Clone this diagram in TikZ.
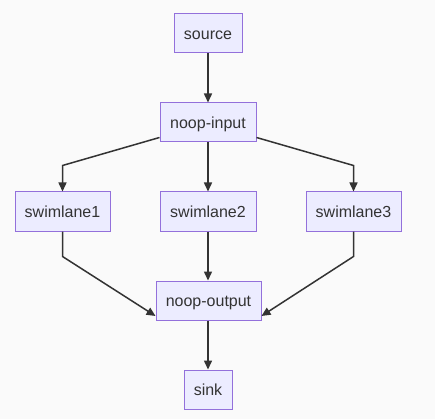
\documentclass[tikz,border=0pt]{standalone}
\usepackage{fontspec}
\setmainfont{Liberation Sans}
\usetikzlibrary{arrows.meta}
\definecolor{nodefill}{HTML}{ECECFF}
\definecolor{nodedraw}{HTML}{9370DB}
\definecolor{ink}{HTML}{333333}
\definecolor{bg}{HTML}{FAFAFA}
\tikzset{
  box/.style={draw=nodedraw, fill=nodefill, line width=1pt, rectangle, inner sep=0pt,
    minimum height=39pt, text height=12pt, text depth=0.4pt, text=ink, font=\fontsize{16pt}{19pt}\selectfont},
  edge/.style={draw=ink, line width=1.5pt, -{Triangle[length=9pt,width=8pt]}}
}
\begin{document}
\begin{tikzpicture}[x=1pt,y=-1pt]
\fill[bg] (0,0) rectangle (435,419);
\useasboundingbox (0,0) rectangle (435,419);
\node[box, minimum width=68pt] (src) at (208,33.5) {source};
\node[box, minimum width=96pt] (ni) at (208,122.5) {noop-input};
\node[box, minimum width=95pt] (s1) at (62.5,211.5) {swimlane1};
\node[box, minimum width=96pt] (s2) at (208,211.5) {swimlane2};
\node[box, minimum width=95pt] (s3) at (353.5,211.5) {swimlane3};
\node[box, minimum width=105pt] (no) at (208.5,300.5) {noop-output};
\node[box, minimum width=48pt] (sk) at (208,389.5) {sink};
\draw[edge] (src.south) -- (ni.north);
\draw[edge] ([yshift=-15pt]ni.west) -- ([yshift=26pt]s1.north) -- (s1.north);
\draw[edge] (ni.south) -- (s2.north);
\draw[edge] ([yshift=-15pt]ni.east) -- ([yshift=26pt]s3.north) -- (s3.north);
\draw[edge] (s1.south) -- ([yshift=-25pt]s1.south) -- ([yshift=-15.5pt]no.west);
\draw[edge] (s2.south) -- (no.north-|s2.south);
\draw[edge] (s3.south) -- ([yshift=-25pt]s3.south) -- ([yshift=-15.5pt]no.east);
\draw[edge] (no.south-|sk.north) -- (sk.north);
\end{tikzpicture}
\end{document}
